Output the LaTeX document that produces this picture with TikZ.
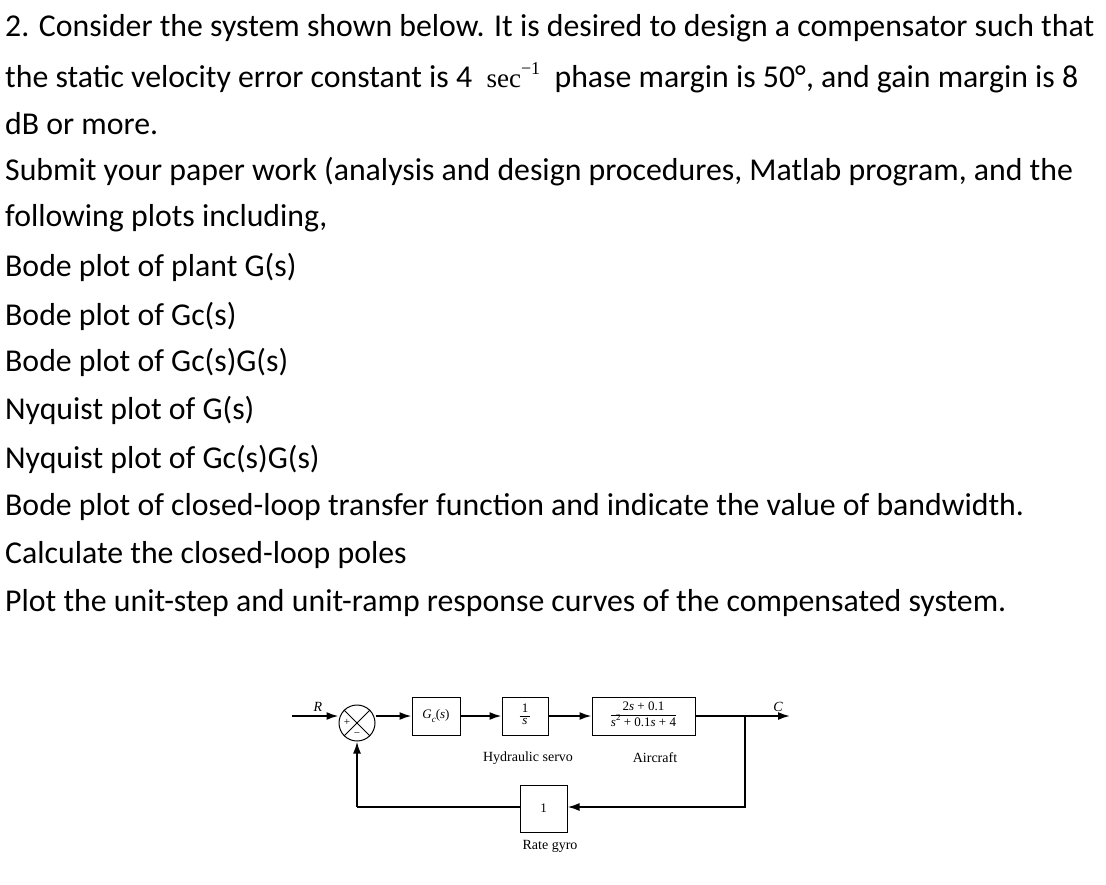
\documentclass[tikz,border=0pt]{standalone}
\usepackage{fontspec}
\setmainfont{Carlito}
\newfontfamily\tms{Liberation Serif}
\usetikzlibrary{arrows.meta}
\begin{document}
\begin{tikzpicture}[x=1pt,y=-1pt,
  txt/.style={anchor=west,inner sep=0pt,font=\fontsize{31.8}{36}\selectfont},
  blk/.style={draw,line width=1pt,inner sep=0pt,font=\tms\fontsize{13}{14}\selectfont},
  lab/.style={inner sep=0pt,font=\tms\fontsize{14}{16}\selectfont},
  sig/.style={line width=1.8pt,-{Latex[length=12pt,width=8pt]}},
  ln/.style={line width=1.8pt}]
\useasboundingbox (0,0) rectangle (1106,884);
\node[txt] (l1) at (5,28) {2. Consider the system shown below. It is desired to design a compensator such that};
\node[txt] (l2) at (5,78) {the static velocity error constant is 4\ \ {\tms\fontsize{27}{30}\selectfont sec\raisebox{0.5em}{\fontsize{18}{18}\selectfont −1}}\ \ phase margin is 50°, and gain margin is 8};
\node[txt] (l3) at (5,124) {dB or more.};
\node[txt] (l4) at (5,172) {Submit your paper work (analysis and design procedures, Matlab program, and the};
\node[txt] (l5) at (5,218) {following plots including,};
\node[txt] (l6) at (5,267) {Bode plot of plant G(s)};
\node[txt] (l7) at (5,316) {Bode plot of Gc(s)};
\node[txt] (l8) at (5,362) {Bode plot of Gc(s)G(s)};
\node[txt] (l9) at (5,410) {Nyquist plot of G(s)};
\node[txt] (l10) at (5,459) {Nyquist plot of Gc(s)G(s)};
\node[txt] (l11) at (5,507) {Bode plot of closed-loop transfer function and indicate the value of bandwidth.};
\node[txt] (l12) at (5,555) {Calculate the closed-loop poles};
\node[txt] (l13) at (5,603) {Plot the unit-step and unit-ramp response curves of the compensated system.};
% diagram
\node[draw,circle,line width=1pt,minimum size=36pt,inner sep=0pt] (sum) at (357,723) {};
\draw[line width=0.8pt] (sum.north west)--(sum.south east) (sum.north east)--(sum.south west);
\node[lab,font=\tms\fontsize{11}{12}\selectfont] (pl) at (347,722) {+};
\node[lab,font=\tms\fontsize{11}{12}\selectfont] (mi) at (357,735) {−};
\node[blk,minimum width=48pt,minimum height=38pt] (gc) at (436,716) {\textit{G\raisebox{-0.25em}{\fontsize{9}{10}\selectfont c}}(\textit{s})};
\node[blk,minimum width=46pt,minimum height=38pt] (hs) at (525,716) {\renewcommand\arraystretch{0.85}\setlength\arrayrulewidth{0.5pt}\begin{tabular}{@{\,}c@{\,}}1\\\hline\textit{s}\end{tabular}};
\node[blk,minimum width=103pt,minimum height=38pt] (ac) at (643.5,716) {\renewcommand\arraystretch{0.85}\setlength\arrayrulewidth{0.5pt}\begin{tabular}{@{}c@{}}2\textit{s} + 0.1\\\hline\textit{s}\raisebox{0.4em}{\fontsize{9}{10}\selectfont 2} + 0.1\textit{s} + 4\end{tabular}};
\node[blk,minimum width=47pt,minimum height=47pt] (rg) at (543.5,808.5) {1};
\coordinate (in) at (292,716);
\coordinate (br) at (745,716);
\coordinate (out) at (790,716);
\coordinate (fb) at (357,807);
\draw[sig] (in)--(sum.west|-in);
\draw[sig] (sum.east|-in)--(gc.west);
\draw[sig] (gc.east)--(hs.west);
\draw[sig] (hs.east)--(ac.west);
\draw[sig] (ac.east)--(out);
\draw[sig] (br)|-(rg.east|-fb);
\draw[ln] (rg.west|-fb)--(fb);
\draw[sig] (fb)--(sum.south);
\node[lab] (R) at (318,707) {\textit{R}};
\node[lab] (C) at (778,707) {\textit{C}};
\node[lab] (t1) at (528,758) {Hydraulic servo};
\node[lab] (t2) at (655,758) {Aircraft};
\node[lab] (t3) at (550,846) {Rate gyro};
\end{tikzpicture}
\end{document}
